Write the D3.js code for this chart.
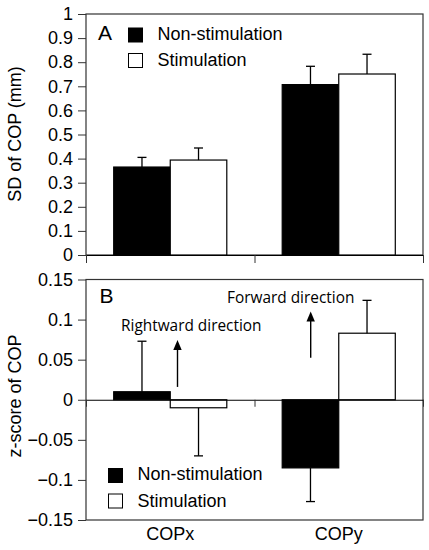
<!DOCTYPE html>
<html>
<head>
<meta charset="utf-8">
<script src="https://cdn.jsdelivr.net/npm/d3@7"></script>
<style>
html,body{margin:0;padding:0;background:#fff;}
svg{display:block;font-family:"Liberation Sans",Arial,sans-serif;}
</style>
</head>
<body>
<svg id="chart" width="429" height="550"></svg>
<script>
// ---- data ----
const categories = ["COPx", "COPy"];
const seriesNames = ["Non-stimulation", "Stimulation"];
const seriesFills = ["#000", "#fff"];

// Panel A: SD of COP (mm)
const sdNonStim = [0.365, 0.707];
const sdNonStimErr = [0.040, 0.076];
const sdStim = [0.394, 0.751];
const sdStimErr = [0.050, 0.082];

// Panel B: z-score of COP
const zNonStim = [0.010, -0.085];
const zNonStimErr = [0.063, 0.042];
const zStim = [-0.010, 0.083];
const zStimErr = [0.060, 0.041];

const ticksA = [0, 0.1, 0.2, 0.3, 0.4, 0.5, 0.6, 0.7, 0.8, 0.9, 1];
const ticksB = [-0.15, -0.1, -0.05, 0, 0.05, 0.1, 0.15];

// ---- layout ----
const svg = d3.select("#chart");
const left = 86, right = 423;
const frameColor = "#333";
const fmt = d3.format("~f");

const x0 = d3.scaleBand().domain(categories).range([left, right]).paddingInner(0).paddingOuter(0);
const x1 = d3.scaleBand().domain(seriesNames).range([0, x0.bandwidth()]).paddingInner(0).paddingOuter(0.49);
const xEdges = d3.scaleLinear().domain([0, categories.length]).range([left, right]);

const yA = d3.scaleLinear().domain([0, 1]).range([255, 14]);
const yB = d3.scaleLinear().domain([-0.15, 0.15]).range([520, 279.5]);

function rows(m1, e1, m2, e2) {
  const out = [];
  categories.forEach((c, i) => {
    out.push({cat: c, s: 0, v: m1[i], e: e1[i]});
    out.push({cat: c, s: 1, v: m2[i], e: e2[i]});
  });
  return out;
}
const dataA = rows(sdNonStim, sdNonStimErr, sdStim, sdStimErr);
const dataB = rows(zNonStim, zNonStimErr, zStim, zStimErr);

function drawPanel(g, data, y, ticks, baseVal, opts) {
  // frame
  g.append("rect")
    .attr("x", left).attr("y", y.range()[1])
    .attr("width", right - left).attr("height", y.range()[0] - y.range()[1])
    .attr("fill", "none").attr("stroke", frameColor).attr("stroke-width", 1.2);

  // bars
  const bx = d => x0(d.cat) + x1(seriesNames[d.s]);
  g.selectAll(".bar").data(data).join("rect")
    .attr("x", bx)
    .attr("y", d => Math.min(y(d.v), y(baseVal)))
    .attr("width", x1.bandwidth())
    .attr("height", d => Math.abs(y(d.v) - y(baseVal)))
    .attr("fill", d => seriesFills[d.s])
    .attr("stroke", "#000").attr("stroke-width", 1.2);

  // error bars (outward only)
  const cap = 4.5;
  const eg = g.selectAll(".err").data(data).join("g");
  eg.append("line")
    .attr("x1", d => bx(d) + x1.bandwidth() / 2)
    .attr("x2", d => bx(d) + x1.bandwidth() / 2)
    .attr("y1", d => y(d.v))
    .attr("y2", d => y(d.v + Math.sign(d.v) * d.e))
    .attr("stroke", "#000").attr("stroke-width", 1.3);
  eg.append("line")
    .attr("x1", d => bx(d) + x1.bandwidth() / 2 - cap)
    .attr("x2", d => bx(d) + x1.bandwidth() / 2 + cap)
    .attr("y1", d => y(d.v + Math.sign(d.v) * d.e))
    .attr("y2", d => y(d.v + Math.sign(d.v) * d.e))
    .attr("stroke", "#000").attr("stroke-width", 1.3);

  // y axis
  const ya = g.append("g").attr("transform", `translate(${left},0)`)
    .call(d3.axisLeft(y).tickValues(ticks).tickFormat(fmt).tickSize(8).tickPadding(5));
  ya.select(".domain").remove();
  ya.selectAll(".tick line").attr("stroke", frameColor);
  ya.selectAll("text").attr("font-size", 18).attr("fill", "#000")
    .attr("font-family", '"Liberation Sans",Arial,sans-serif');

  // x tick axis at baseline
  const xa = g.append("g").attr("transform", `translate(0,${y(baseVal)})`)
    .call(d3.axisBottom(xEdges).tickValues(d3.range(categories.length + 1)).tickFormat("").tickSize(opts.xTick).tickSizeOuter(0));
  xa.select(".domain").attr("stroke", "#000").attr("stroke-width", 1.2);
  xa.selectAll(".tick line").attr("stroke", frameColor);

  // y label
  g.append("text")
    .attr("transform", `translate(20.5,${opts.labelY}) rotate(-90)`)
    .attr("text-anchor", "middle")
    .attr("font-size", 18)
    .text(opts.yLabel);

  // panel letter
  g.append("text").attr("x", opts.letterX).attr("y", opts.letterY)
    .attr("font-size", 21).text(opts.letter);

  // legend
  const lg = g.append("g");
  seriesNames.forEach((s, i) => {
    lg.append("rect")
      .attr("x", opts.legX).attr("y", opts.legY + i * 25.5)
      .attr("width", 14).attr("height", 14)
      .attr("fill", seriesFills[i]).attr("stroke", "#000").attr("stroke-width", 1);
    lg.append("text")
      .attr("x", opts.legX + 29).attr("y", opts.legY + 11.5 + i * 26.5)
      .attr("font-size", 18).text(s);
  });
}

const gA = svg.append("g");
drawPanel(gA, dataA, yA, ticksA, 0, {
  xTick: 8, yLabel: "SD of COP (mm)", labelY: 134,
  letter: "A", letterX: 98, letterY: 39.5, legX: 128.5, legY: 28
});

const gB = svg.append("g");
drawPanel(gB, dataB, yB, ticksB, 0, {
  xTick: 7, yLabel: "z-score of COP", labelY: 396,
  letter: "B", letterX: 99.5, letterY: 303, legX: 108.5, legY: 468.5
});

// category labels under panel B
const xl = svg.append("g").attr("transform", `translate(0,${yB(-0.15)})`)
  .call(d3.axisBottom(x0).tickSize(0).tickPadding(7));
xl.select(".domain").remove();
xl.selectAll("text").attr("font-size", 18).attr("fill", "#000")
  .attr("font-family", '"Liberation Sans",Arial,sans-serif');

// direction annotations (panel B)
const annotations = [
  {text: "Rightward direction", tx: 121, ty: 331, ax: 177.5, from: 0.016, to: 0.0745},
  {text: "Forward direction", tx: 227, ty: 303, ax: 310.7, from: 0.0525, to: 0.110}
];
const ann = svg.append("g");
annotations.forEach(a => {
  ann.append("text").attr("x", a.tx).attr("y", a.ty)
    .attr("font-family", '"Open Sans",sans-serif').attr("font-size", 15.4)
    .text(a.text);
  const tip = yB(a.to), base = yB(a.from);
  ann.append("line").attr("x1", a.ax).attr("x2", a.ax)
    .attr("y1", base).attr("y2", tip + 8)
    .attr("stroke", "#000").attr("stroke-width", 1.4);
  ann.append("path")
    .attr("d", `M${a.ax},${tip} L${a.ax - 4.2},${tip + 10} L${a.ax + 4.2},${tip + 10} Z`)
    .attr("fill", "#000");
});
</script>
</body>
</html>
